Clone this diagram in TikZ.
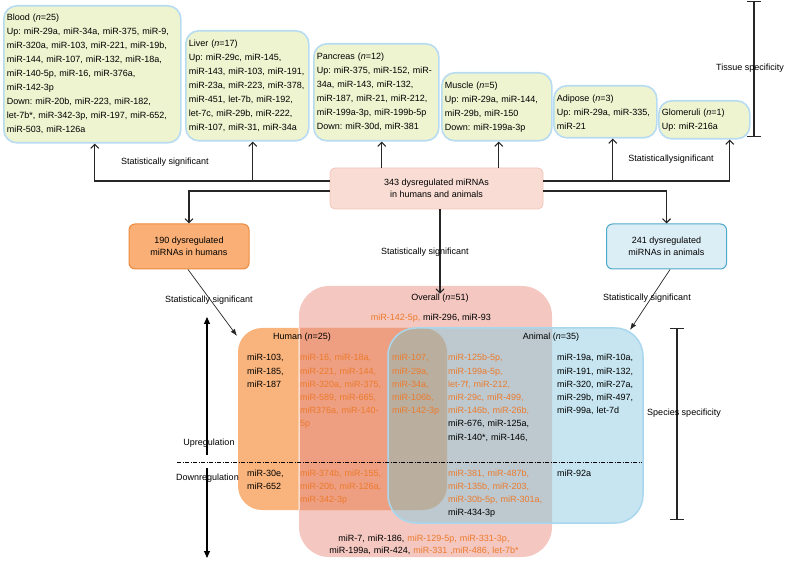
\documentclass[tikz,border=0pt]{standalone}
\usepackage{fontspec}
\setmainfont{Liberation Sans}
\usetikzlibrary{arrows.meta}
\frenchspacing
\definecolor{tissuefill}{HTML}{EEF3D0}
\definecolor{tissueline}{HTML}{B7DCF2}
\definecolor{hubfill}{HTML}{F9DCD3}
\definecolor{hubline}{HTML}{F1C6B9}
\definecolor{humfill}{HTML}{F9AF75}
\definecolor{humline}{HTML}{EC8B40}
\definecolor{animfill}{HTML}{DCEEF5}
\definecolor{animline}{HTML}{4DA8C9}
\definecolor{ovpink}{HTML}{F4C7C0}
\definecolor{humorange}{HTML}{F9B47D}
\definecolor{anblue}{HTML}{C7E5F0}
\definecolor{humov}{HTML}{EE9F81}
\definecolor{anov}{HTML}{BDC9CF}
\definecolor{trio}{HTML}{BAAF9F}
\definecolor{anedge}{HTML}{A8D7EE}
\definecolor{mirorange}{HTML}{EC7A2C}
\newcommand{\ovregion}{(299,286) rectangle (552,557)}
\newcommand{\humregion}{(238,328) rectangle (447,510)}
\newcommand{\anregion}{(388,328) rectangle (643,523)}
\newcommand{\nn}{\textit{n}}
\newcommand{\og}[1]{\textcolor{mirorange}{#1}}
\tikzset{tissue/.style={draw=tissueline, fill=tissuefill, line width=1.6pt, rounded corners=13pt, anchor=north west, align=left, inner xsep=3pt, inner ysep=0pt, font=\fontsize{9}{14}\selectfont},
 hub/.style={draw=hubline, fill=hubfill, line width=0.8pt, rounded corners=5pt, minimum width=213pt, minimum height=41pt, align=center, font=\fontsize{9}{11.5}\selectfont},
 group/.style={line width=1pt, rounded corners=6pt, minimum width=120pt, minimum height=45pt, align=center, font=\fontsize{9}{12}\selectfont},
 link/.style={draw=black!85, line width=1.1pt},
 up/.style={link, -{Straight Barb[length=4pt,width=8pt]}},
 diag/.style={draw=black!85, line width=0.7pt, -{Latex[length=7pt,width=5pt]}},
 sig/.style={inner sep=0pt, font=\fontsize{9}{11}\selectfont},
 venn/.style={anchor=base west, align=left, inner sep=0pt, font=\fontsize{9}{13.2}\selectfont},
 bracket/.style={draw=black!85, line width=1.2pt, {Bar[width=14pt]}-{Bar[width=14pt]}}}

\begin{document}
\begin{tikzpicture}[x=1pt,y=-1pt]
  \useasboundingbox (0,0) rectangle (785,561);
  % tissues
  \node[tissue, text width=171pt, minimum height=137pt] (blood) at (3,5)
   {Blood (\nn=25)\\Up: miR-29a, miR-34a, miR-375, miR-9,\\miR-320a, miR-103, miR-221, miR-19b,\\miR-144, miR-107, miR-132, miR-18a,\\miR-140-5p, miR-16, miR-376a,\\miR-142-3p\\Down: miR-20b, miR-223, miR-182,\\let-7b*, miR-342-3p, miR-197, miR-652,\\miR-503, miR-126a};
  \node[tissue, text width=117pt, minimum height=110pt] (liver) at (185,30)
   {Liver (\nn=17)\\Up: miR-29c, miR-145,\\miR-143, miR-103, miR-191,\\miR-23a, miR-223, miR-378,\\miR-451, let-7b, miR-192,\\let-7c, miR-29b, miR-222,\\miR-107, miR-31, miR-34a};
  \node[tissue, text width=119pt, minimum height=97pt] (pancreas) at (313,43)
   {Pancreas (\nn=12)\\Up: miR-375, miR-152, miR-\\34a, miR-143, miR-132,\\miR-187, miR-21, miR-212,\\miR-199a-3p, miR-199b-5p\\Down: miR-30d, miR-381};
  \node[tissue, text width=104pt, minimum height=68pt] (muscle) at (441,72)
   {Muscle (\nn=5)\\Up: miR-29a, miR-144,\\miR-29b, miR-150\\Down: miR-199a-3p};
  \node[tissue, text width=97pt, minimum height=52pt] (adipose) at (553,85)
   {Adipose (\nn=3)\\Up: miR-29a, miR-335,\\miR-21};
  \node[tissue, text width=85pt, minimum height=38pt] (glomeruli) at (658,100)
   {Glomeruli (\nn=1)\\Up: miR-216a};

  \node[hub] (hub) at (436.5,188.5) {343 dysregulated miRNAs\\in humans and animals};
  \node[group, draw=humline, fill=humfill] (human) at (189,246.5) {190 dysregulated\\miRNAs in humans};
  \node[group, draw=animline, fill=animfill] (animal) at (666.5,246.5) {241 dysregulated\\miRNAs in animals};

  \draw[up] ([yshift=7.5pt]hub.west) -| ([xshift=2.5pt]blood.south);
  \draw[up] ([yshift=7.5pt]hub.west) -| ([xshift=5.5pt]liver.south);
  \draw[up] ([xshift=5.5pt]pancreas.south |- hub.north) -- ([xshift=5.5pt]pancreas.south);
  \draw[up] ([xshift=2pt]muscle.south |- hub.north) -- ([xshift=2pt]muscle.south);
  \draw[up] ([yshift=7.5pt]hub.east) -| ([xshift=7.5pt]adipose.south);
  \draw[up] ([yshift=7.5pt]hub.east) -| ([xshift=25.5pt]glomeruli.south);
  \draw[up] ([yshift=-2.5pt]hub.west) -| (human.north);
  \draw[up] ([yshift=-2.5pt]hub.east) -| (animal.north);

  \node[sig] (sigtl) at (165,162) {Statistically significant};
  \node[sig] (sigtr) at (671,159) {Statisticallysignificant};

  % venn
  \fill[ovpink, rounded corners=30pt] \ovregion;
  \fill[humorange, rounded corners=24pt] \humregion;
  \begin{scope}
   \clip[rounded corners=30pt] \ovregion;
   \fill[humov, rounded corners=24pt] \humregion;
  \end{scope}
  \fill[anblue, rounded corners=28pt] \anregion;
  \begin{scope}
   \clip[rounded corners=30pt] \ovregion;
   \fill[anov, rounded corners=28pt] \anregion;
  \end{scope}
  \begin{scope}
   \clip[rounded corners=30pt] \ovregion;
   \clip[rounded corners=24pt] \humregion;
   \fill[trio, rounded corners=28pt] \anregion;
  \end{scope}
  \begin{scope}
   \clip[rounded corners=24pt] \humregion;
   \draw[white, line width=1pt, rounded corners=30pt] \ovregion;
  \end{scope}
  \draw[anedge, line width=1.5pt, rounded corners=28pt] \anregion;

  \node[sig] (ovtitle) at (440,298) {Overall (\nn=51)};
  \node[sig] (ovshared) at (431,318) {\og{miR-142-5p,} miR-296, miR-93};
  \node[sig] (humtitle) at (302,337) {Human (\nn=25)};
  \node[sig] (antitle) at (551,337) {Animal (\nn=35)};

  \draw[up] ([xshift=3.5pt]hub.south) -- (ovtitle.north);
  \node[sig] (sigmid) at (425,252) {Statistically significant};
  \coordinate (humtip) at (237,336);
  \coordinate (antip) at (630,330);
  \draw[diag] ([xshift=-1pt]human.south) -- (humtip);
  \draw[diag] ([xshift=3.5pt]animal.south) -- (antip);
  \node[sig] (sighum) at (209,300) {Statistically significant};
  \node[sig] (sigan) at (647,298) {Statistically significant};

  % upregulated
  \node[venn, text width=50pt] (humup) at (247,361) {miR-103,\\miR-185,\\miR-187};
  \node[venn, text width=90pt, text=mirorange] (humovup) at (300,361)
   {miR-16, miR-18a,\\miR-221, miR-144,\\miR-320a, miR-375,\\miR-589, miR-665,\\miR376a, miR-140-\\5p};
  \node[venn, text width=55pt, text=mirorange] (trioup) at (392,361)
   {miR-107,\\miR-29a,\\miR-34a,\\miR-106b,\\miR-142-3p};
  \node[venn, text width=105pt] (anovup) at (448,361)
   {\og{miR-125b-5p,}\\\og{miR-199a-5p,}\\\og{let-7f, miR-212,}\\\og{miR-29c, miR-499,}\\\og{miR-146b, miR-26b,}\\miR-676, miR-125a,\\miR-140*, miR-146,};
  \node[venn, text width=85pt] (anup) at (557,361)
   {miR-19a, miR-10a,\\miR-191, miR-132,\\miR-320, miR-27a,\\miR-29b, miR-497,\\miR-99a, let-7d};
  % downregulated
  \node[venn, text width=50pt] (humdown) at (247,476) {miR-30e,\\miR-652};
  \node[venn, text width=90pt, text=mirorange] (humovdown) at (300,476)
   {miR-374b, miR-155,\\miR-20b, miR-126a,\\miR-342-3p};
  \node[venn, text width=105pt] (anovdown) at (448,476)
   {\og{miR-381, miR-487b,}\\\og{miR-135b, miR-203,}\\\og{miR-30b-5p, miR-301a,}\\miR-434-3p};
  \node[venn, text width=85pt] (andown) at (557,476) {miR-92a};
  \node[venn, anchor=base, align=center, text width=220pt, font=\fontsize{9}{12}\selectfont] (ovdown) at (424,541)
   {miR-7, miR-186, \og{miR-129-5p, miR-331-3p,}\\miR-199a, miR-424, \og{miR-331 ,miR-486, let-7b*}};

  \draw[black, line width=0.9pt, dash pattern=on 4pt off 1.5pt on 1pt off 1.5pt] (177,462) -- (642,462);

  % regulation axis
  \coordinate (uptop) at (207,317);
  \coordinate (downend) at (207,558);
  \draw[line width=1.1pt, -{Triangle[length=7pt,width=6pt]}] (207,455) -- (uptop);
  \draw[line width=1.1pt, -{Triangle[length=7pt,width=6pt]}] (207,468) -- (downend);
  \node[sig] (upreg) at (209,443) {Upregulation};
  \node[sig] (downreg) at (207.5,478) {Downregulation};

  % specificity
  \draw[bracket] (677,328) -- (677,520);
  \node[sig] (species) at (684,413) {Species specificity};
  \draw[bracket] (754,1) -- (754,137);
  \node[sig] (tissuespec) at (750,68) {Tissue specificity};
\end{tikzpicture}
\end{document}
